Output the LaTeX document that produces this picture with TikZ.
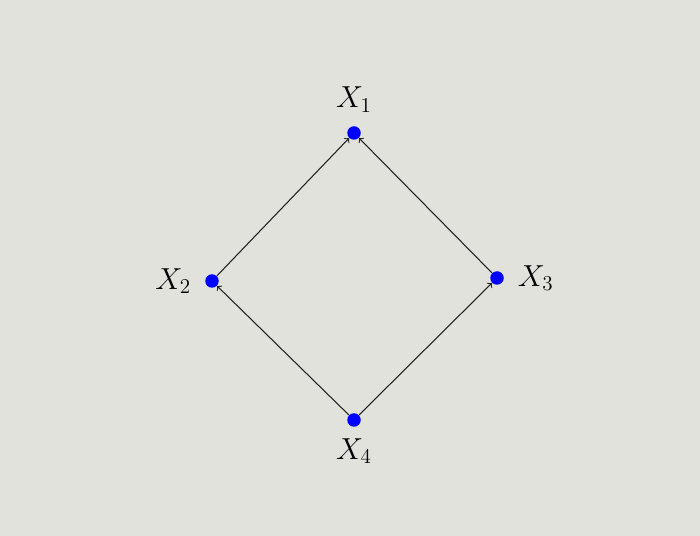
\documentclass[tikz,border=0pt]{standalone}
\usetikzlibrary{positioning}
\definecolor{paper}{RGB}{226,226,221}
\begin{document}
\begin{tikzpicture}[x=0.02cm, y=-0.02cm,
		vertex/.style={circle, fill=blue, inner sep=0pt, minimum size=2.7mm},
		edge/.style={->, line width=0.6pt, gray!25!black},
		lbl/.style={font=\LARGE}]
		\fill[paper] (0, 0) rectangle (700, 536);
		\useasboundingbox (0, 0) rectangle (700, 536);

		\node[vertex] (x1) at (354, 133) {};
		\node[vertex] (x2) at (212, 281) {};
		\node[vertex] (x3) at (497, 278) {};
		\node[vertex] (x4) at (354, 420) {};

		\draw[edge] (x4) -- (x2);
		\draw[edge] (x4) -- (x3);
		\draw[edge] (x2) -- (x1);
		\draw[edge] (x3) -- (x1);

		\node[lbl, above=1.5mm of x1] (l1) {$X_1$};
		\node[lbl, left=1.5mm of x2] (l2) {$X_2$};
		\node[lbl, right=1.5mm of x3] (l3) {$X_3$};
		\node[lbl, below=1mm of x4] (l4) {$X_4$};
	\end{tikzpicture}
\end{document}
